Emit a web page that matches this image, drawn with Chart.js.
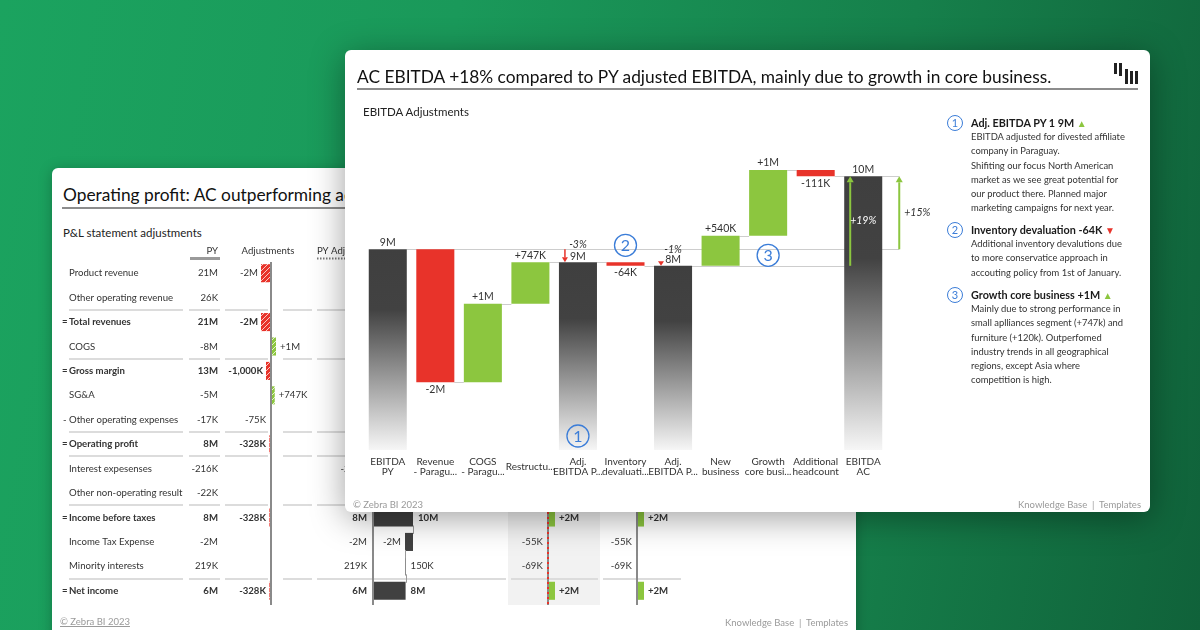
<!DOCTYPE html>
<html><head><meta charset="utf-8">
<script src="https://cdn.jsdelivr.net/npm/chart.js@4.4.1/dist/chart.umd.min.js"></script>
<style>
*{box-sizing:border-box}
html,body{margin:0;padding:0}
body{width:1200px;height:630px;overflow:hidden;position:relative;font-family:Lato,"Noto Sans",sans-serif;color:#222;
 background:linear-gradient(100deg,#1ba35f 0%,#1a995a 35%,#16804b 70%,#10623a 100%);}
.card{position:absolute;background:#fff;border-radius:6px;overflow:hidden}
#back{left:52px;top:168px;width:804px;height:480px;box-shadow:0 2px 14px rgba(0,0,0,.25)}
#front{left:345px;top:50px;width:805px;height:462px;box-shadow:0 6px 34px rgba(0,0,0,.38)}
.title{position:absolute;white-space:nowrap;font-size:20px;line-height:22px;color:#111;display:inline-block}
.rule{position:absolute;height:2px;background:#8c8c8c}
.sub{position:absolute;font-size:11.5px;line-height:14px;color:#222;white-space:nowrap}
.foot{position:absolute;font-size:9.5px;line-height:12px;color:#9a9a9a;white-space:nowrap}
.note{position:absolute;left:626px;width:175px;font-size:9.4px;line-height:14.3px;color:#333;white-space:nowrap}
.note b{display:block;line-height:14px;color:#1a1a1a;font-size:10.8px}
.num{position:absolute;left:-24px;top:-1px;width:16px;height:16px;border:1.3px solid #3b7dd8;border-radius:50%;color:#3b7dd8;font-size:11px;line-height:13.5px;text-align:center}
.up{color:#8cc63f;font-size:10px} .dn{color:#e8332a;font-size:10px}
canvas{position:absolute}
.logo{position:absolute;width:2.5px;background:#222}
</style></head>
<body>
<div id="back" class="card">
  <div class="title" id="btitle" style="left:11px;top:16px">Operating profit: AC outperforming adjusted PY</div>
  <div class="rule" style="left:10px;top:39px;width:760px"></div>
  <div class="sub" style="left:11px;top:58px">P&amp;L statement adjustments</div>
  <canvas id="tbl" width="804" height="390" style="left:0;top:72px"></canvas>
  <div class="foot" style="left:8px;top:448px;text-decoration:underline">© Zebra BI 2023</div>
  <div class="foot" style="right:8px;top:449px">Knowledge Base &nbsp;|&nbsp; Templates</div>
</div>
<div id="front" class="card">
  <div class="title" id="ftitle" style="left:12px;top:16px">AC EBITDA +18% compared to PY adjusted EBITDA, mainly due to growth in core business.</div>
  <div class="rule" style="left:12px;top:38px;width:781px"></div>
  <div class="logo" style="left:769px;top:13px;height:11px"></div>
  <div class="logo" style="left:774px;top:13px;height:13px"></div>
  <div class="logo" style="left:780px;top:19px;height:15px"></div>
  <div class="logo" style="left:785px;top:21px;height:13px"></div>
  <div class="logo" style="left:790px;top:21px;height:13px"></div>
  <div class="sub" style="left:18px;top:55px">EBITDA Adjustments</div>
  <canvas id="wf" width="600" height="400" style="left:0;top:45px"></canvas>
  <div class="note" style="top:66px"><span class="num">1</span><b>Adj. EBITDA PY 1 9M <span class="up">▲</span></b>EBITDA adjusted for divested affiliate<br>company in Paraguay.<br>Shifiting our focus North American<br>market as we see great potential for<br>our product there. Planned major<br>marketing campaigns for next year.</div>
  <div class="note" style="top:173px"><span class="num">2</span><b>Inventory devaluation -64K <span class="dn">▼</span></b>Additional inventory devalutions due<br>to more conservatice approach in<br>accouting policy from 1st of January.</div>
  <div class="note" style="top:238px"><span class="num">3</span><b>Growth core business +1M <span class="up">▲</span></b>Mainly due to strong performance in<br>small aplliances segment (+747k) and<br>furniture (+120k). Outperfomed<br>industry trends in all geographical<br>regions, except Asia where<br>competition is high.</div>
  <div class="foot" style="left:8px;top:449px">© Zebra BI 2023</div>
  <div class="foot" style="right:9px;top:449px">Knowledge Base &nbsp;|&nbsp; Templates</div>
</div>
<script>
// ================= DATA: main waterfall (EBITDA adjustments, M) =================
const categories = [["EBITDA","PY"],["Revenue","- Paragu..."],["COGS","- Paragu..."],"Restructu...",["Adj.","EBITDA P..."],["Inventory","devaluati..."],["Adj.","EBITDA P..."],["New","business"],["Growth","core busi..."],["Additional","headcount"],["EBITDA","AC"]];
const barTypes   = ["total","delta","delta","delta","subtotal","delta","subtotal","delta","delta","delta","total"];
const amounts    = [8.753, -2.39, 1.41, 0.747, null, -0.064, null, 0.54, 1.18, -0.111, null];
const axisMin = 5.146, axisMax = 10.717;

// ================= DATA: P&L statement adjustments table (M) =================
const rowLabels = ["Product revenue","Other operating revenue","Total revenues","COGS","Gross margin","SG&A","Other operating expenses","Operating profit","Interest expesenses","Other non-operating result","Income before taxes","Income Tax Expense","Minority interests","Net income"];
const rowKinds  = ["item","item","sum","item","sum","item","minus","sum","item","item","sum","item","item","sum"];
const pyValues  = [21, 0.026, 21, -8, 13, -5, -0.017, 8, -0.216, -0.022, 8, -2, 0.219, 6];
const adjValues = [-2, null, -2, 1.0004, -0.9996, 0.747, -0.075, -0.328, null, null, -0.328, null, null, -0.328];
const acValues  = [null, null, null, null, null, null, null, null, null, null, 10, -2, 0.15, null];
const acTypes   = [null, null, null, null, null, null, null, null, null, null, "total", "delta", "delta", "total"];
const deltaPY    = [null, null, null, null, null, null, null, null, null, null, 2.33, -0.055, -0.069, 2.33];
const deltaPYAdj = [null, null, null, null, null, null, null, null, null, null, 2.33, -0.055, -0.069, 2.33];
const separatorAbove = [2, 4, 7, 8, 10, 13];

// ================= helpers =================
const FONT = "Lato, 'Noto Sans', sans-serif";
const GREEN = "#8cc63f", RED = "#e8332a", DARK = "#404040", BLUE = "#3b7dd8", TXT = "#333";
const TBL_FS = 9.6;
function fmt(v, signed){
  const a = Math.abs(v);
  const s = a >= 1 ? Math.round(a) + "M" : Math.round(a*1000).toLocaleString("en-US") + "K";
  return (v < 0 ? "-" : (signed ? "+" : "")) + s;
}
function fmtPct(r){ return (r >= 0 ? "+" : "-") + Math.round(Math.abs(r)*100) + "%"; }

const ft = document.getElementById("ftitle");
const fs0 = parseFloat(getComputedStyle(ft).fontSize);
const fsz = fs0 * 695 / ft.getBoundingClientRect().width;
ft.style.fontSize = fsz + "px";
document.getElementById("btitle").style.fontSize = fsz + "px";

Chart.defaults.font.family = FONT;
Chart.defaults.color = TXT;

// ================= waterfall computation =================
const levels = [], floats = [];
let run = 0;
amounts.forEach((v, i) => {
  if (barTypes[i] === "delta") { floats.push([run, run + v]); run += v; }
  else { if (v !== null) run = v; floats.push([axisMin, run]); }
  levels.push(run);
});

function totalFill(c){
  const chart = c.chart, ca = chart.chartArea, i = c.dataIndex;
  if (!ca || !chart.scales.y) return DARK;
  const top = chart.scales.y.getPixelForValue(levels[i]);
  const g = chart.ctx.createLinearGradient(0, top, 0, ca.bottom);
  g.addColorStop(0, "#3f3f3f"); g.addColorStop(0.3, "#424242"); g.addColorStop(1, "#f6f6f6");
  return g;
}

const wfPlugin = {
  id: "wf",
  beforeDatasetsDraw(chart){
    const {ctx} = chart, y = chart.scales.y, meta = chart.getDatasetMeta(0);
    const L = i => meta.data[i].x - meta.data[i].width/2, R = i => meta.data[i].x + meta.data[i].width/2;
    const Y = v => Math.round(y.getPixelForValue(v)) + 0.5;
    ctx.save(); ctx.strokeStyle = "#cdcdcd"; ctx.lineWidth = 1;
    const h = (x1, x2, yy) => { ctx.beginPath(); ctx.moveTo(x1, yy); ctx.lineTo(x2, yy); ctx.stroke(); };
    for (let i = 0; i < levels.length - 1; i++) h(R(i), L(i+1), Y(levels[i]));
    const n = levels.length - 1;
    const a15 = R(n) + 17, a19 = L(n) + 6;
    h(R(0), a15, Y(levels[0]));
    h(R(6), a19, Y(levels[6]));
    h(R(n), a15, Y(levels[n]));
    ctx.restore();
  },
  afterDatasetsDraw(chart){
    const {ctx, chartArea: ca} = chart, y = chart.scales.y, meta = chart.getDatasetMeta(0);
    const L = i => meta.data[i].x - meta.data[i].width/2, R = i => meta.data[i].x + meta.data[i].width/2, C = i => meta.data[i].x;
    const Y = v => y.getPixelForValue(v);
    ctx.save();
    ctx.textAlign = "center"; ctx.textBaseline = "middle"; ctx.fillStyle = TXT;
    const font = (s, st) => { ctx.font = (st || "") + " " + s + "px " + FONT; };
    const n = levels.length - 1;
    levels.forEach((lv, i) => {
      ctx.fillStyle = TXT; font(10.5);
      if (barTypes[i] === "total") ctx.fillText(fmt(lv), C(i), Y(lv) - 7);
      else if (barTypes[i] === "delta") {
        const v = amounts[i];
        if (v >= 0) ctx.fillText(fmt(v, true), C(i), Y(lv) - 7);
        else ctx.fillText(fmt(v, true), C(i), Y(lv) + 7);
      } else {
        const prev = levels[findTotalBefore(i)];
        const labY = Y(lv) - 6;
        ctx.fillText(fmt(lv), C(i), labY);
        font(10.5, "italic");
        ctx.fillText(fmtPct(lv / prev - 1), C(i), Math.min(Y(prev) - 5, labY - 10));
        arrow(L(i) + 6 + (i === 6 ? 1 : 0), Y(prev), Y(lv), RED, 1.5, 6, 5);
      }
    });
    const a19 = L(n) + 6, a15 = R(n) + 17;
    arrow(a19, Y(levels[6]), Y(levels[n]), GREEN, 2, 7, 6);
    arrow(a15, Y(levels[0]), Y(levels[n]), GREEN, 2, 7, 6);
    font(10.5, "italic");
    ctx.fillStyle = "#fff";
    ctx.fillText(fmtPct(levels[n]/levels[6]-1), C(n), (Y(levels[6]) + Y(levels[n]))/2);
    ctx.fillStyle = TXT; ctx.textAlign = "left";
    ctx.fillText(fmtPct(levels[n]/levels[0]-1), a15 + 5, (Y(levels[0]) + Y(levels[n]))/2);
    circle(C(4), ca.bottom - 14, "1");
    circle(C(5), Y(levels[0]) - 4, "2");
    circle(C(8), Y(levels[0]) + 6, "3");
    ctx.restore();

    function findTotalBefore(i){ for (let k = i-1; k >= 0; k--) if (barTypes[k] !== "delta") return k; return 0; }
    function arrow(x, y1, y2, col, lw, hw, hl){
      const dir = y2 > y1 ? 1 : -1;
      ctx.strokeStyle = col; ctx.fillStyle = col; ctx.lineWidth = lw;
      const len = Math.abs(y2 - y1);
      if (len > hl) { ctx.beginPath(); ctx.moveTo(x, y1); ctx.lineTo(x, y2 - dir*hl); ctx.stroke(); }
      const hh = Math.min(hl, len + 1);
      ctx.beginPath(); ctx.moveTo(x - hw/2, y2 - dir*hh); ctx.lineTo(x + hw/2, y2 - dir*hh); ctx.lineTo(x, y2); ctx.closePath(); ctx.fill();
    }
    function circle(x, yy, t){
      ctx.beginPath(); ctx.arc(x, yy, 11, 0, Math.PI*2); ctx.strokeStyle = BLUE; ctx.lineWidth = 1.3; ctx.stroke();
      ctx.fillStyle = BLUE; ctx.textAlign = "center"; font(16); ctx.fillText(t, x, yy + 1);
    }
  }
};

new Chart(document.getElementById("wf"), {
  type: "bar",
  data: { labels: categories, datasets: [{
    data: floats,
    backgroundColor: c => barTypes[c.dataIndex] === "delta" ? (amounts[c.dataIndex] >= 0 ? GREEN : RED) : totalFill(c),
    borderWidth: 0, borderSkipped: false,
    categoryPercentage: 0.8, barPercentage: 1
  }]},
  options: {
    responsive: false, animation: false,
    layout: { padding: { left: 19, right: 58, top: 45, bottom: 2 } },
    plugins: { legend: { display: false }, tooltip: { enabled: false } },
    scales: {
      x: { grid: { display: false, drawTicks: false }, border: { display: false },
           ticks: { autoSkip: false, maxRotation: 0, padding: 12, crossAlign: "center", color: TXT,
                    font: { size: 10, lineHeight: 0.95 } } },
      y: { display: false, min: axisMin, max: axisMax }
    }
  },
  plugins: [wfPlugin]
});

// ================= table chart =================
function hatch(col){
  const c = document.createElement("canvas"); c.width = c.height = 5;
  const x = c.getContext("2d");
  x.fillStyle = col; x.fillRect(0, 0, 5, 5);
  x.strokeStyle = "rgba(255,255,255,0.75)"; x.lineWidth = 1;
  [[-1,6,6,-1],[-1,1,1,-1],[4,6,6,4]].forEach(p => { x.beginPath(); x.moveTo(p[0],p[1]); x.lineTo(p[2],p[3]); x.stroke(); });
  return document.getElementById("tbl").getContext("2d").createPattern(c, "repeat");
}
const redHatch = hatch(RED), greenHatch = hatch(GREEN);

const AREA_L = 133, AREA_R = 804;
function lin(zero, ppm){ return { type: "linear", display: false, min: -(zero - AREA_L)/ppm, max: (AREA_R - zero)/ppm }; }

const pyAdj = pyValues.map((v, i) => v + (adjValues[i] || 0));
const acFloats = []; let acRun = 0; const acEnds = [];
acValues.forEach((v, i) => {
  if (acTypes[i] === "total") { if (v !== null) acRun = v; acFloats.push([0, acRun]); }
  else if (acTypes[i] === "delta") { acFloats.push([acRun, acRun + v]); acRun += v; }
  else acFloats.push(null);
  acEnds.push(acRun);
});

const tblPlugin = {
  id: "tbl",
  beforeDatasetsDraw(chart){
    const {ctx, chartArea: ca} = chart, y = chart.scales.y;
    ctx.save();
    ctx.fillStyle = "#f2f2f2"; ctx.fillRect(456, 0, 92, ca.bottom + 2);
    ctx.strokeStyle = "#dcdcdc"; ctx.lineWidth = 2;
    const segs = [[17,131],[137,168],[173,216],[231,260],[265,454],[459,546],[551,629]];
    separatorAbove.forEach(r => {
      const yy = Math.round((y.getPixelForValue(r-1) + y.getPixelForValue(r))/2);
      segs.forEach(s => { ctx.beginPath(); ctx.moveTo(s[0], yy); ctx.lineTo(s[1], yy); ctx.stroke(); });
    });
    ctx.fillStyle = TXT; ctx.font = TBL_FS + "px " + FONT; ctx.textBaseline = "middle";
    const hy = ca.top - 10;
    ctx.textAlign = "right"; ctx.fillText("PY", 166, hy);
    ctx.textAlign = "center"; ctx.fillText("Adjustments", 216, hy);
    ctx.textAlign = "left"; ctx.fillText("PY Adj.", 265, hy);
    ctx.fillStyle = "#9a9a9a"; ctx.fillRect(138, hy + 6, 30, 3);
    ctx.strokeStyle = "#777"; ctx.lineWidth = 2; ctx.setLineDash([1.5, 1.5]);
    ctx.beginPath(); ctx.moveTo(265, hy + 7.5); ctx.lineTo(330, hy + 7.5); ctx.stroke();
    ctx.restore();
  },
  afterDatasetsDraw(chart){
    const {ctx, chartArea: ca} = chart, y = chart.scales.y, s = chart.scales;
    ctx.save();
    ctx.textBaseline = "middle";
    const f = bold => { ctx.font = (bold ? "bold " : "") + TBL_FS + "px " + FONT; };
    const ax = (x, col, dash) => { ctx.strokeStyle = col; ctx.lineWidth = 2; ctx.setLineDash(dash || []); ctx.beginPath(); ctx.moveTo(x, ca.top + 1); ctx.lineTo(x, ca.bottom + 2); ctx.stroke(); };
    ax(s.xAdj.getPixelForValue(0), "#8a8a8a");
    ax(s.xAc.getPixelForValue(0), "#8a8a8a");
    ax(s.xD1.getPixelForValue(0), "#8a8a8a");
    ax(s.xD1.getPixelForValue(0), RED, [2, 3]);
    ax(s.xD2.getPixelForValue(0), "#8a8a8a");
    ctx.setLineDash([]);
    ctx.strokeStyle = "#9a9a9a"; ctx.lineWidth = 1;
    for (let i = 0; i < acTypes.length - 1; i++) {
      if (!acTypes[i] || !acTypes[i+1]) continue;
      const x = Math.round(s.xAc.getPixelForValue(acEnds[i])) + 0.5;
      ctx.beginPath(); ctx.moveTo(x, y.getPixelForValue(i) + 8); ctx.lineTo(x, y.getPixelForValue(i+1) - 8); ctx.stroke();
    }
    rowLabels.forEach((lab, i) => {
      const yy = y.getPixelForValue(i), bold = rowKinds[i] === "sum";
      ctx.fillStyle = TXT; f(bold);
      ctx.textAlign = "left";
      if (rowKinds[i] === "sum") ctx.fillText("=", 10, yy);
      if (rowKinds[i] === "minus") { f(false); ctx.fillText("-", 11, yy); f(bold); }
      ctx.textAlign = "right"; ctx.fillText(fmt(pyValues[i]), 166, yy);
      const a = adjValues[i];
      if (a !== null) {
        const x0 = s.xAdj.getPixelForValue(0), x1 = s.xAdj.getPixelForValue(a);
        if (a < 0) { ctx.textAlign = "right"; ctx.fillText(fmt(a, true), Math.min(x1, x0 - 2) - 3, yy); }
        else { ctx.textAlign = "left"; ctx.fillText(fmt(a, true), x1 + 4, yy); }
      }
      ctx.textAlign = "right"; ctx.fillText(fmt(pyAdj[i]), 315, yy);
      if (acTypes[i]) {
        const fl = acFloats[i], v = acTypes[i] === "total" ? acEnds[i] : acValues[i];
        const lo = s.xAc.getPixelForValue(Math.min(fl[0], fl[1])), hi = s.xAc.getPixelForValue(Math.max(fl[0], fl[1]));
        if (v < 0) { ctx.textAlign = "right"; ctx.fillText(fmt(v, false), lo - 4, yy); }
        else { ctx.textAlign = "left"; ctx.fillText(fmt(v, false), hi + 5, yy); }
      }
      [[deltaPY, s.xD1], [deltaPYAdj, s.xD2]].forEach(([arr, sc]) => {
        const v = arr[i]; if (v === null) return;
        const x0 = sc.getPixelForValue(0), x1 = sc.getPixelForValue(v);
        if (v < 0) { ctx.textAlign = "right"; ctx.fillText(fmt(v, true), Math.min(x1, x0) - 5, yy); }
        else { ctx.textAlign = "left"; ctx.fillText(fmt(v, true), x1 + 4, yy); }
      });
    });
    ctx.restore();
  }
};

new Chart(document.getElementById("tbl"), {
  type: "bar",
  data: { labels: rowLabels, datasets: [
    { xAxisID: "xAdj", data: adjValues.map(v => v === null ? null : [0, v]),
      backgroundColor: c => (adjValues[c.dataIndex] || 0) >= 0 ? greenHatch : redHatch },
    { xAxisID: "xAc", data: acFloats, backgroundColor: DARK },
    { xAxisID: "xD1", data: deltaPY.map(v => v === null ? null : [0, v]), backgroundColor: c => (deltaPY[c.dataIndex] || 0) >= 0 ? GREEN : RED },
    { xAxisID: "xD2", data: deltaPYAdj.map(v => v === null ? null : [0, v]), backgroundColor: c => (deltaPYAdj[c.dataIndex] || 0) >= 0 ? GREEN : RED }
  ].map(d => Object.assign({ grouped: false, categoryPercentage: 1, barPercentage: 0.74, borderWidth: 0, borderSkipped: false }, d)) },
  options: {
    indexAxis: "y", responsive: false, animation: false,
    layout: { padding: { left: 17, top: 21, bottom: 27, right: 0 } },
    plugins: { legend: { display: false }, tooltip: { enabled: false } },
    scales: {
      y: { position: "left", grid: { display: false, drawTicks: false }, border: { display: false },
           afterFit: sc => { sc.width = 116; },
           ticks: { crossAlign: "far", padding: 0, color: TXT,
                    font: c => ({ size: TBL_FS, family: FONT, weight: rowKinds[c.index] === "sum" ? "bold" : "normal" }) } },
      xAdj: lin(219, 5),
      xAc: lin(321, 4),
      xD1: lin(496, 3),
      xD2: lin(585, 3)
    }
  },
  plugins: [tblPlugin]
});
</script>
</body></html>
